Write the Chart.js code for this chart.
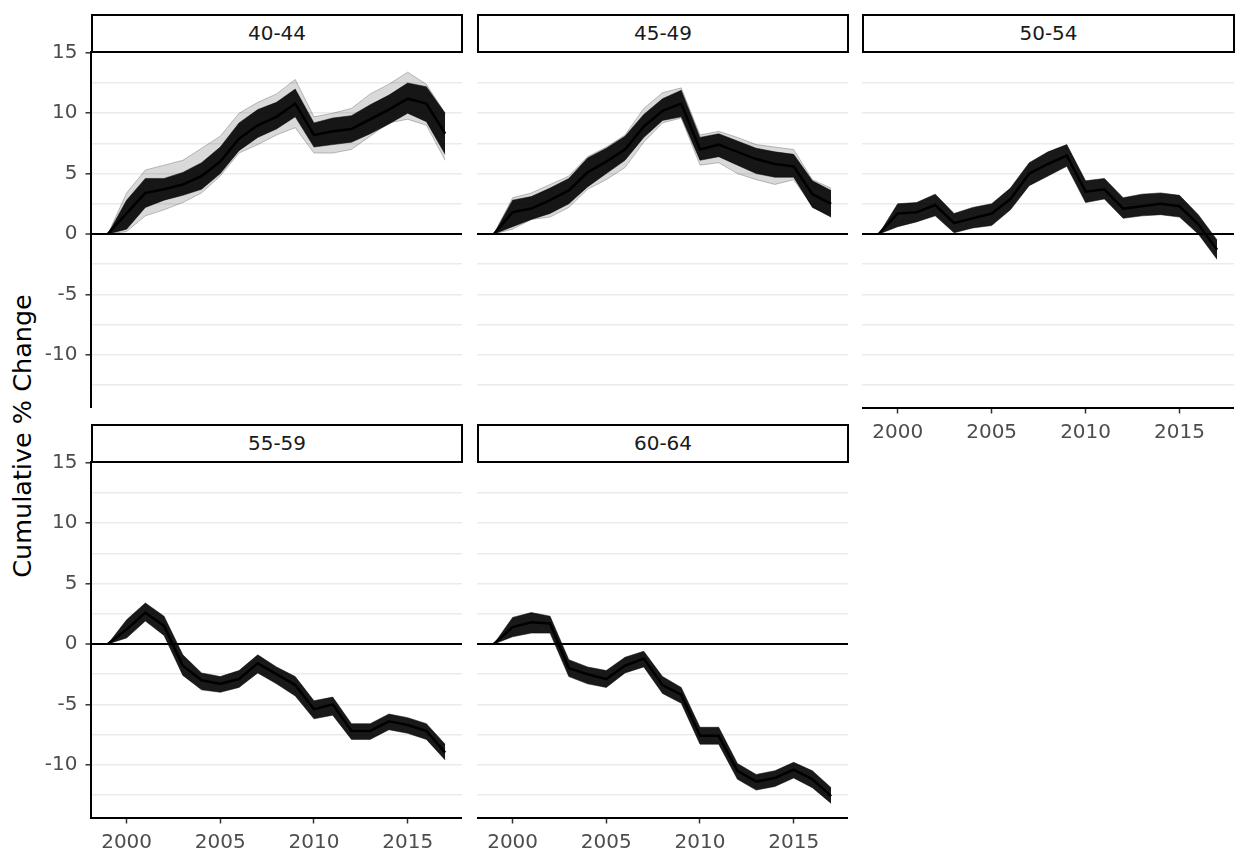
<!DOCTYPE html>
<html>
<head>
<meta charset="utf-8">
<script src="https://cdn.jsdelivr.net/npm/chart.js@4.4.1/dist/chart.umd.min.js"></script>
<style>
  html, body { margin: 0; padding: 0; background: #fff; }
  body { width: 1248px; height: 864px; position: relative; overflow: hidden; font-family: 'DejaVu Sans', sans-serif; }
  .panel { position: absolute; }
  .strip {
    position: absolute; box-sizing: border-box; border: 2px solid #000; background: #fff;
    font-size: 20px; color: #1a1a1a; text-align: center; line-height: 35px;
  }
  #ytitle {
    position: absolute; left: 22px; top: 436px; font-size: 25.5px; color: #000;
    white-space: nowrap; transform: translate(-50%, -50%) rotate(-90deg);
  }
</style>
</head>
<body>
<div id="ytitle">Cumulative % Change</div>
<script>
// years on the x axis
const years = [1999, 2000, 2001, 2002, 2003, 2004, 2005, 2006, 2007, 2008, 2009, 2010, 2011, 2012, 2013, 2014, 2015, 2016, 2017];
const xTickLabels = [2000, 2005, 2010, 2015];
const yTickLabels = [-10, -5, 0, 5, 10, 15];
const panelNames = ['40-44', '45-49', '50-54', '55-59', '60-64'];

// centre of the bundle of simulated lines, upper / lower edge of the dense band,
// and (where visible) the outermost stray lines
const mid4044 = [0, 1.7, 3.4, 3.7, 4.1, 4.8, 6.0, 7.9, 9.0, 9.7, 10.8, 8.2, 8.5, 8.7, 9.5, 10.3, 11.2, 10.8, 8.3];
const hi4044  = [0, 2.8, 4.6, 4.6, 5.1, 5.9, 7.2, 9.2, 10.3, 10.9, 12.0, 9.2, 9.6, 9.8, 10.7, 11.5, 12.5, 12.2, 10.0];
const lo4044  = [0, 0.4, 2.2, 2.8, 3.2, 3.7, 5.0, 6.9, 8.0, 8.7, 9.7, 7.2, 7.4, 7.6, 8.3, 9.1, 10.0, 9.3, 6.6];
const outHi4044 = [0, 3.4, 5.3, 5.7, 6.1, 7.1, 8.1, 10.0, 10.9, 11.6, 12.8, 9.7, 10.0, 10.4, 11.6, 12.4, 13.4, 12.4, 10.0];
const outLo4044 = [0, 0.2, 1.5, 2.0, 2.6, 3.4, 4.8, 6.7, 7.4, 8.2, 8.8, 6.7, 6.7, 7.0, 8.1, 9.2, 9.5, 9.0, 6.1];

const mid4549 = [0, 1.8, 2.1, 2.8, 3.6, 5.1, 6.0, 7.0, 8.9, 10.2, 10.8, 7.0, 7.4, 6.8, 6.2, 5.8, 5.6, 3.3, 2.5];
const hi4549  = [0, 2.8, 3.1, 3.8, 4.6, 6.3, 7.1, 8.1, 9.9, 11.2, 11.9, 8.0, 8.3, 7.7, 7.1, 6.8, 6.6, 4.4, 3.6];
const lo4549  = [0, 0.6, 1.2, 1.7, 2.5, 3.9, 5.0, 6.1, 8.0, 9.4, 9.7, 6.1, 6.4, 5.7, 5.0, 4.7, 4.7, 2.2, 1.4];
const outHi4549 = [0, 3.0, 3.4, 4.1, 4.8, 6.4, 7.2, 8.2, 10.4, 11.7, 12.1, 8.2, 8.5, 8.0, 7.4, 7.2, 7.0, 4.5, 3.8];
const outLo4549 = [0, 0.4, 1.2, 1.4, 2.2, 3.7, 4.5, 5.5, 7.6, 9.2, 9.6, 5.7, 5.9, 5.0, 4.5, 4.1, 4.5, 2.3, 1.4];

const mid5054 = [0, 1.7, 1.8, 2.4, 0.9, 1.3, 1.7, 2.9, 5.0, 5.8, 6.5, 3.5, 3.7, 2.1, 2.3, 2.5, 2.3, 0.8, -1.3];
const hi5054  = [0, 2.5, 2.6, 3.3, 1.7, 2.2, 2.5, 3.8, 5.9, 6.8, 7.4, 4.4, 4.6, 3.0, 3.3, 3.4, 3.2, 1.6, -0.5];
const lo5054  = [0, 0.6, 1.0, 1.5, 0.1, 0.5, 0.7, 2.0, 4.0, 4.8, 5.6, 2.6, 2.9, 1.3, 1.5, 1.6, 1.4, 0.0, -2.1];

const mid5559 = [0, 1.2, 2.6, 1.5, -1.8, -3.0, -3.3, -2.9, -1.6, -2.5, -3.4, -5.4, -5.0, -7.2, -7.2, -6.4, -6.7, -7.2, -9.0];
const hi5559  = [0, 2.0, 3.4, 2.3, -0.9, -2.4, -2.7, -2.2, -0.9, -1.9, -2.7, -4.7, -4.4, -6.6, -6.6, -5.8, -6.1, -6.6, -8.3];
const lo5559  = [0, 0.5, 1.9, 0.7, -2.6, -3.8, -4.0, -3.6, -2.4, -3.3, -4.3, -6.2, -5.9, -7.9, -7.9, -7.1, -7.4, -7.9, -9.6];

const mid6064 = [0, 1.4, 1.8, 1.7, -2.0, -2.5, -2.9, -1.8, -1.2, -3.4, -4.2, -7.6, -7.6, -10.5, -11.4, -11.1, -10.4, -11.2, -12.6];
const hi6064  = [0, 2.2, 2.6, 2.3, -1.3, -1.9, -2.2, -1.1, -0.6, -2.7, -3.6, -6.9, -6.9, -9.9, -10.8, -10.5, -9.8, -10.5, -11.9];
const lo6064  = [0, 0.6, 0.9, 0.9, -2.7, -3.3, -3.6, -2.4, -1.9, -4.1, -4.9, -8.3, -8.3, -11.2, -12.1, -11.8, -11.1, -11.9, -13.2];

const X_MIN = 1998.1, X_MAX = 2017.9;
const Y_MIN = -14.41, Y_MAX = 15.07;

const FONT = 'DejaVu Sans';
const Y_AXIS_W = 50;
const X_AXIS_H = 40;
const TOP_ROOM = 16; // canvas extends above the plot so the top tick label is not cut

function points(values) {
    return years.map((yr, i) => ({ x: yr, y: values[i] }));
}

function tickValue(ctx) {
    return ctx.tick ? ctx.tick.value : null;
}

// keep the plot area exactly where we put it (no room reserved for overflowing labels)
function noPadding(s) {
    s.paddingTop = 0;
    s.paddingBottom = 0;
    s.paddingLeft = 0;
    s.paddingRight = 0;
}

/**
 * Builds one facet: strip label box plus a Chart.js chart whose plot area
 * sits at (left, top) with the given size.
 */
function makePanel(name, series, box) {
    const showY = box.showY, showX = box.showX;
    const wrap = document.createElement('div');
    wrap.className = 'panel';
    wrap.style.left = (box.left - (showY ? Y_AXIS_W : 0)) + 'px';
    wrap.style.top = (box.top - TOP_ROOM) + 'px';
    wrap.style.width = (box.width + (showY ? Y_AXIS_W : 0)) + 'px';
    wrap.style.height = (box.height + TOP_ROOM + (showX ? X_AXIS_H : 0)) + 'px';
    const canvas = document.createElement('canvas');
    wrap.appendChild(canvas);
    document.body.appendChild(wrap);

    const strip = document.createElement('div');
    strip.className = 'strip';
    strip.style.left = box.left + 'px';
    strip.style.top = (box.top - 38) + 'px';
    strip.style.width = (box.width + 1) + 'px';
    strip.style.height = '39px';
    strip.textContent = name;
    document.body.appendChild(strip);

    const datasets = [
        { data: points(series.mid), borderColor: '#000', borderWidth: 2.6, fill: false },
        { data: points(series.hi), borderColor: 'rgba(0,0,0,0.5)', borderWidth: 1, fill: '+1', backgroundColor: 'rgba(0,0,0,0.9)' },
        { data: points(series.lo), borderColor: 'rgba(0,0,0,0.5)', borderWidth: 1, fill: false }
    ];
    if (series.outHi) {
        datasets.push(
            { data: points(series.outHi), borderColor: 'rgba(0,0,0,0.3)', borderWidth: 0.8, fill: '+1', backgroundColor: 'rgba(0,0,0,0.15)' },
            { data: points(series.outLo), borderColor: 'rgba(0,0,0,0.3)', borderWidth: 0.8, fill: false }
        );
    }

    new Chart(canvas, {
        type: 'line',
        data: { datasets: datasets },
        options: {
            animation: false,
            responsive: true,
            maintainAspectRatio: false,
            layout: { padding: { top: TOP_ROOM, left: 0, right: 0, bottom: 0 } },
            elements: { point: { radius: 0 }, line: { tension: 0 } },
            plugins: { legend: { display: false }, tooltip: { enabled: false } },
            scales: {
                x: {
                    type: 'linear',
                    min: X_MIN,
                    max: X_MAX,
                    display: showX,
                    afterFit: s => { s.height = showX ? X_AXIS_H : 0; noPadding(s); },
                    border: { display: true, color: '#000', width: 2 },
                    grid: {
                        drawOnChartArea: false,
                        drawTicks: true,
                        tickLength: 5.5,
                        tickWidth: 1.5,
                        tickColor: ctx => xTickLabels.includes(tickValue(ctx)) ? '#333' : 'transparent'
                    },
                    ticks: {
                        stepSize: 5,
                        includeBounds: false,
                        autoSkip: false,
                        maxRotation: 0,
                        padding: 7,
                        color: '#4d4d4d',
                        font: { family: FONT, size: 20 },
                        callback: v => xTickLabels.includes(v) ? String(v) : ''
                    }
                },
                y: {
                    type: 'linear',
                    min: Y_MIN,
                    max: Y_MAX,
                    afterFit: s => { s.width = showY ? Y_AXIS_W : 0; noPadding(s); },
                    border: { display: showY, color: '#000', width: 2 },
                    grid: {
                        drawTicks: showY,
                        tickLength: 5.5,
                        tickWidth: 1.5,
                        color: ctx => {
                            const v = tickValue(ctx);
                            if (v === 0) return '#000';
                            if (v === null || v >= 15) return 'transparent';
                            return '#ebebeb';
                        },
                        lineWidth: ctx => tickValue(ctx) === 0 ? 2 : 1.6,
                        tickColor: ctx => yTickLabels.includes(tickValue(ctx)) ? '#333' : 'transparent'
                    },
                    ticks: {
                        display: showY,
                        stepSize: 2.5,
                        includeBounds: false,
                        autoSkip: false,
                        maxTicksLimit: 30,
                        padding: 8,
                        color: '#4d4d4d',
                        font: { family: FONT, size: 20 },
                        callback: v => yTickLabels.includes(v) ? String(v) : ''
                    }
                }
            }
        }
    });
}

const panelSeries = [
    { mid: mid4044, hi: hi4044, lo: lo4044, outHi: outHi4044, outLo: outLo4044 },
    { mid: mid4549, hi: hi4549, lo: lo4549, outHi: outHi4549, outLo: outLo4549 },
    { mid: mid5054, hi: hi5054, lo: lo5054 },
    { mid: mid5559, hi: hi5559, lo: lo5559 },
    { mid: mid6064, hi: hi6064, lo: lo6064 }
];

const panelBoxes = [
    { left: 91, top: 52, width: 371, height: 356, showY: true, showX: false },
    { left: 477, top: 52, width: 371, height: 356, showY: false, showX: false },
    { left: 862, top: 52, width: 372, height: 356, showY: false, showX: true },
    { left: 91, top: 462, width: 371, height: 356, showY: true, showX: true },
    { left: 477, top: 462, width: 371, height: 356, showY: false, showX: true }
];

panelNames.forEach((name, i) => makePanel(name, panelSeries[i], panelBoxes[i]));
</script>
</body>
</html>
